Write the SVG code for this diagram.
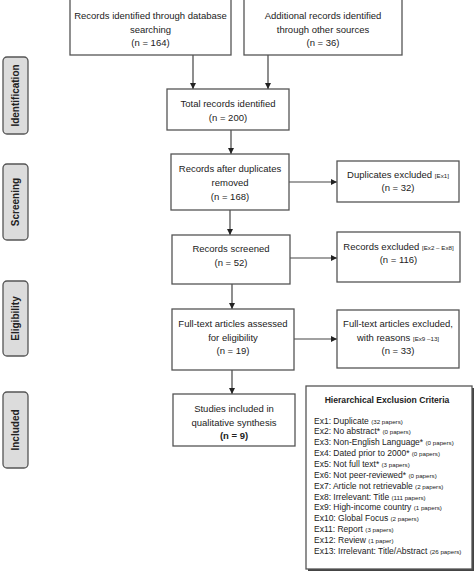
<svg xmlns="http://www.w3.org/2000/svg" width="474" height="571" viewBox="0 0 474 571">
<defs>
<marker id="ah" viewBox="0 0 10 10" refX="10" refY="5" markerWidth="6" markerHeight="6" markerUnits="userSpaceOnUse" orient="auto">
<path d="M0,0 L10,5 L0,10 z" fill="#222"/>
</marker>
<style>
.box{fill:#fff;stroke:#555;stroke-width:1.3}
.phase{fill:#dcdcdc;stroke:#555;stroke-width:1.3}
.t{font-family:"Liberation Sans",Arial,sans-serif;font-size:9.5px;fill:#222;text-anchor:middle}
.ph{font-family:"Liberation Sans",Arial,sans-serif;font-size:10px;font-weight:bold;fill:#222;text-anchor:middle}
.s{font-size:6.2px}
.li{font-family:"Liberation Sans",Arial,sans-serif;font-size:8.5px;fill:#222}
.b{font-weight:bold}
.c{fill:none;stroke:#444;stroke-width:1.2;marker-end:url(#ah)}
</style>
</defs>
<g id="connectors">
<line class="c" x1="193" y1="55" x2="193" y2="89"/>
<line class="c" x1="268" y1="55" x2="268" y2="89"/>
<line class="c" x1="231" y1="130" x2="231" y2="154"/>
<line class="c" x1="289" y1="182" x2="337" y2="182"/>
<line class="c" x1="230" y1="210" x2="230" y2="235"/>
<line class="c" x1="290" y1="258" x2="337" y2="258"/>
<line class="c" x1="232" y1="284" x2="232" y2="309"/>
<line class="c" x1="294" y1="339" x2="337" y2="339"/>
<line class="c" x1="232" y1="370" x2="232" y2="394"/>
</g>
<g id="phase-identification"><rect class="phase" x="3" y="57" width="25" height="77" rx="4"/><text class="ph" transform="translate(19,95.5) rotate(-90)">Identification</text></g>
<g id="phase-screening"><rect class="phase" x="3" y="164" width="25" height="76" rx="4"/><text class="ph" transform="translate(19,202) rotate(-90)">Screening</text></g>
<g id="phase-eligibility"><rect class="phase" x="3" y="281" width="25" height="75" rx="4"/><text class="ph" transform="translate(19,318.5) rotate(-90)">Eligibility</text></g>
<g id="phase-included"><rect class="phase" x="3" y="392" width="25" height="76" rx="4"/><text class="ph" transform="translate(19,430) rotate(-90)">Included</text></g>
<g id="n-database"><rect class="box" x="70" y="-1" width="161" height="56"/>
<text class="t" x="150.5" y="19">Records identified through database</text>
<text class="t" x="150.5" y="32.5">searching</text>
<text class="t" x="150.5" y="46">(n = 164)</text></g>
<g id="n-other"><rect class="box" x="244" y="-1" width="158" height="56"/>
<text class="t" x="323" y="19">Additional records identified</text>
<text class="t" x="323" y="32.5">through other sources</text>
<text class="t" x="323" y="46">(n = 36)</text></g>
<g id="n-total"><rect class="box" x="167" y="89" width="122" height="41"/>
<text class="t" x="228" y="107">Total records identified</text>
<text class="t" x="228" y="121">(n = 200)</text></g>
<g id="n-afterdup"><rect class="box" x="171" y="154" width="118" height="56"/>
<text class="t" x="230" y="172">Records after duplicates</text>
<text class="t" x="230" y="186">removed</text>
<text class="t" x="230" y="199.5">(n = 168)</text></g>
<g id="n-dupexcl"><rect class="box" x="337" y="161" width="122" height="41"/>
<text class="t" x="398" y="178">Duplicates excluded <tspan class="s">[Ex1]</tspan></text>
<text class="t" x="398" y="191">(n = 32)</text></g>
<g id="n-screened"><rect class="box" x="172" y="235" width="118" height="49"/>
<text class="t" x="231" y="252">Records screened</text>
<text class="t" x="231" y="266">(n = 52)</text></g>
<g id="n-recexcl"><rect class="box" x="337" y="232" width="123" height="50"/>
<text class="t" x="398.5" y="250">Records excluded <tspan class="s">[Ex2 – Ex8]</tspan></text>
<text class="t" x="398.5" y="263">(n = 116)</text></g>
<g id="n-fulltext"><rect class="box" x="172" y="309" width="122" height="61"/>
<text class="t" x="233" y="327">Full-text articles assessed</text>
<text class="t" x="233" y="340.5">for eligibility</text>
<text class="t" x="233" y="354">(n = 19)</text></g>
<g id="n-ftexcl"><rect class="box" x="337" y="310" width="122" height="58"/>
<text class="t" x="398" y="327">Full-text articles excluded,</text>
<text class="t" x="398" y="340.5">with reasons <tspan class="s">[Ex9 –13]</tspan></text>
<text class="t" x="398" y="354">(n = 33)</text></g>
<g id="n-included"><rect class="box" x="173" y="394" width="122" height="52"/>
<text class="t" x="234" y="412">Studies included in</text>
<text class="t" x="234" y="425.5">qualitative synthesis</text>
<text class="t b" x="234" y="439">(n = 9)</text></g>
<g id="n-criteria">
<rect x="308" y="388" width="166" height="184" fill="#444"/>
<rect class="box" x="306" y="386" width="166" height="183"/>
<text class="t b" x="387" y="403" style="font-size:8.6px">Hierarchical Exclusion Criteria</text>
<text class="li" x="314" y="423.5">Ex1: Duplicate <tspan class="s">(32 papers)</tspan></text>
<text class="li" x="314" y="434.4">Ex2: No abstract* <tspan class="s">(0 papers)</tspan></text>
<text class="li" x="314" y="445.2">Ex3: Non-English Language* <tspan class="s">(0 papers)</tspan></text>
<text class="li" x="314" y="456.1">Ex4: Dated prior to 2000* <tspan class="s">(0 papers)</tspan></text>
<text class="li" x="314" y="466.9">Ex5: Not full text* <tspan class="s">(3 papers)</tspan></text>
<text class="li" x="314" y="477.8">Ex6: Not peer-reviewed* <tspan class="s">(0 papers)</tspan></text>
<text class="li" x="314" y="488.6">Ex7: Article not retrievable <tspan class="s">(2 papers)</tspan></text>
<text class="li" x="314" y="499.5">Ex8: Irrelevant: Title <tspan class="s">(111 papers)</tspan></text>
<text class="li" x="314" y="510.3">Ex9: High-income country <tspan class="s">(1 papers)</tspan></text>
<text class="li" x="314" y="521.2">Ex10: Global Focus <tspan class="s">(2 papers)</tspan></text>
<text class="li" x="314" y="532">Ex11: Report <tspan class="s">(3 papers)</tspan></text>
<text class="li" x="314" y="542.9">Ex12: Review <tspan class="s">(1 paper)</tspan></text>
<text class="li" x="314" y="553.7">Ex13: Irrelevant: Title/Abstract <tspan class="s">(26 papers)</tspan></text>
</g>
</svg>
